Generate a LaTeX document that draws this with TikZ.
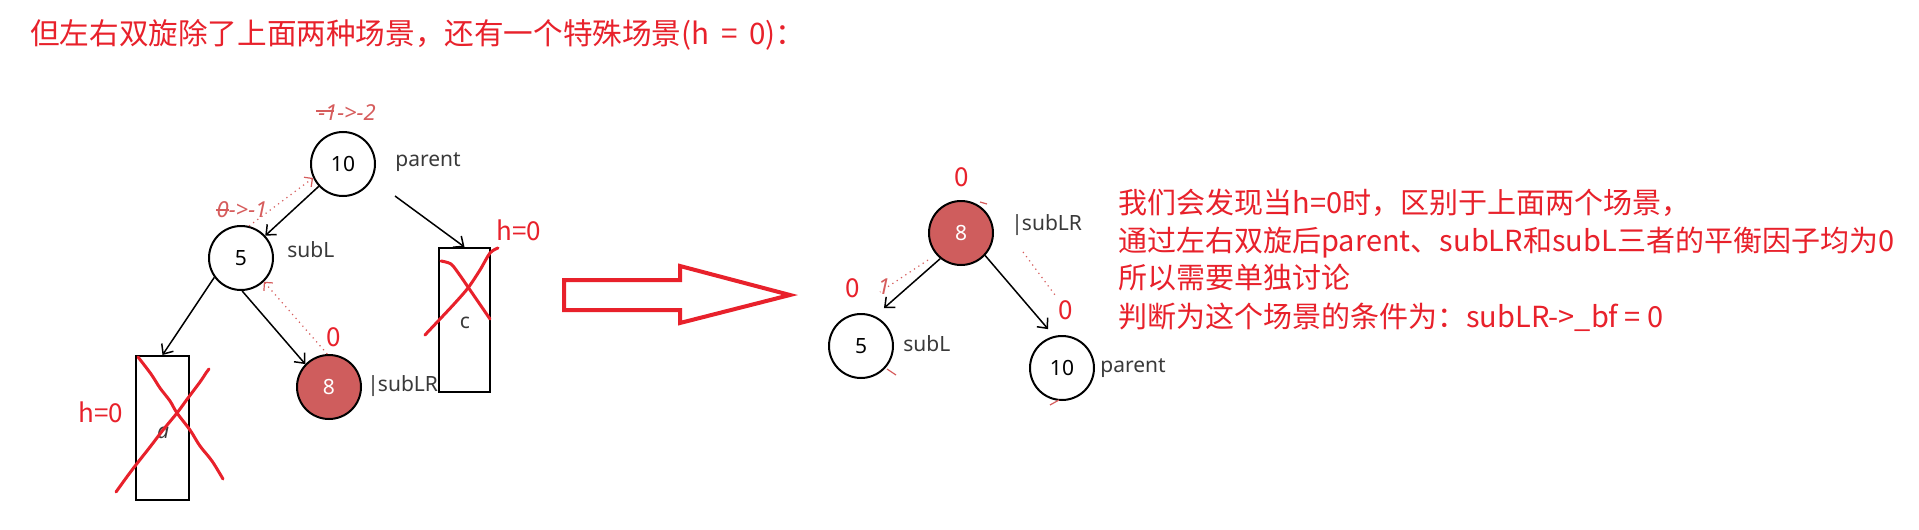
\documentclass[tikz,border=0pt]{standalone}
\usepackage{fontspec}
\setmainfont{Noto Sans}
\newfontfamily\cjk{Noto Sans CJK SC}
\newfontfamily\lab{Noto Sans}
\usetikzlibrary{arrows.meta,calc}
\definecolor{tred}{HTML}{E8212B}
\definecolor{dred}{HTML}{D65C5C}
\definecolor{nfill}{HTML}{CF5D5D}
\definecolor{lgray}{HTML}{3A3A3A}
\begin{document}
\begin{tikzpicture}[x=0.5pt,y=-0.5pt,
  circ/.style={circle,draw=black,line width=1pt,minimum size=32pt,inner sep=0pt,font=\lab\fontsize{10.5}{11}\selectfont},
  hot/.style={circ,fill=nfill,text=white},
  lbl/.style={anchor=west,inner sep=0pt,text=lgray,font=\lab\fontsize{10.5}{12}\selectfont},
  rtxt/.style={anchor=base west,inner sep=0pt,text=tred,font=\cjk\fontsize{14.5}{16}\selectfont},
  rnum/.style={inner sep=0pt,text=tred,font=\cjk\fontsize{13}{14}\selectfont},
  anno/.style={inner sep=0pt,text=dred,font=\lab\itshape\fontsize{11}{12}\selectfont},
  arr/.style={-{Straight Barb[length=4pt,width=7pt]},line width=0.75pt},
  darr/.style={-{Straight Barb[length=3pt,width=6pt]},dred,dotted,line width=0.6pt},
  dline/.style={dred,dotted,line width=0.6pt},
  boxn/.style={draw=black,line width=1pt,inner sep=0pt},
  xmark/.style={tred,line width=1.5pt,line cap=round,line join=round},
  tickm/.style={dred,line width=0.6pt}
]
\fill[white] (0,0) rectangle (1919,530);
\useasboundingbox (0,0) rectangle (1919,530);

% title
\node[rtxt,font=\cjk\fontsize{14.8}{16}\selectfont] (title) at (30,44.5) {但左右双旋除了上面两种场景，还有一个特殊场景(h\,\ =\ \,0)：};

% ---------- left tree ----------
\node[circ] (p) at (343,164) {10};
\node[circ] (s) at (241,258) {5};
\node[hot] (lr) at (329,387) {8};
\node[boxn,minimum width=26.5pt,minimum height=72pt] (ba) at (162.5,428) {};
\node[boxn,minimum width=25.5pt,minimum height=72pt] (bc) at (464.5,320) {};
\node[inner sep=0pt,text=lgray,font=\lab\itshape\fontsize{10.5}{12}\selectfont] (la) at (163,433) {a};
\node[inner sep=0pt,text=lgray,font=\lab\fontsize{10.5}{12}\selectfont] (lc) at (465,323) {c};

\node[lbl] (lp) at (395,162) {parent};
\node[lbl] (ls) at (287,250) {subL};
\node[lbl] (llr) at (367,386) {|\kern-0.5pt subLR};

\coordinate (pc) at (395,196);
\draw[arr] (p) -- (s);
\draw[arr] (pc) -- (bc.north);
\draw[arr] (s.216) -- (ba.north);
\draw[arr] (s.272) -- (lr.136);
\draw[darr] (s.76) -- (p.205);
\draw[darr] (lr.93) -- (s.314);

\node[anno] (a1) at (347,113) {-1->-2};
\draw[dred,line width=0.6pt] (316,111) -- (334,111);
\node[anno] (a2) at (242,210) {0->-1};
\draw[dred,line width=0.6pt] (216,210) -- (229,210);

\node[rnum] (z1) at (334,337) {0};
\node[rnum] (h1) at (101,412) {h=0};
\node[rnum] (h2) at (519,230) {h=0};

% red crosses
\draw[xmark] plot[smooth,tension=0.6] coordinates {(138,357) (151,374) (160,388) (170,401) (177,413) (190,430) (200,446) (212,461) (223,479)};
\draw[xmark] plot[smooth,tension=0.6] coordinates {(209,369) (206,373) (200,382) (188,398) (177,413) (163,430) (150,447) (132,470) (116,492)};
\draw[xmark] plot[smooth,tension=0.5] coordinates {(441,261) (451,264) (459,274) (468,287) (479,303) (490,319)};
\draw[xmark] plot[smooth,tension=0.5] coordinates {(498,248) (490,253) (480,270) (468,288) (455,303) (441,318) (425,335)};

% big hollow arrow
\draw[tred,line width=2pt,line join=miter] (564,280) -- (680,280) -- (680,266) -- (790,295) -- (680,323) -- (680,310) -- (564,310) -- cycle;

% ---------- right tree ----------
\node[hot] (r8) at (961,233) {8};
\node[circ] (r5) at (861,346) {5};
\node[circ] (r10) at (1062,368) {10};
\node[lbl] (lr8) at (1011,225) {|\kern-0.5pt subLR};
\node[lbl] (lr5) at (903,344) {subL};
\node[lbl] (lr10) at (1100,368) {parent};

\draw[arr,shorten >=6pt] (r8.231) -- (r5.65);
\draw[arr,shorten >=4.5pt] (r8.317) -- (r10.104);
\coordinate (d1a) at (928,260);
\coordinate (d1b) at (880,292);
\coordinate (d2a) at (1023,252);
\coordinate (d2b) at (1055,295);
\draw[dline] (d1a) -- (d1b);
\draw[dline] (d2a) -- (d2b);
\node[anno] (one) at (884,287) {1};

\node[rnum] (z2) at (962,177) {0};
\node[rnum] (z3) at (853,288) {0};
\node[rnum] (z4) at (1066,310) {0};

\draw[tickm] (980,202) -- (987,204);
\draw[tickm] (887,369) -- (896,375);
\draw[tickm] (1050,405) -- (1059,400);

% right text
\node[rtxt] (t1) at (1118,213) {我们会发现当h=0时，区别于上面两个场景，};
\node[rtxt] (t2) at (1118,251) {通过左右双旋后parent、subLR和subL三者的平衡因子均为0};
\node[rtxt] (t3) at (1118,288) {所以需要单独讨论};
\node[rtxt] (t4) at (1118,327) {判断为这个场景的条件为：subLR->\_bf = 0};
\end{tikzpicture}
\end{document}
